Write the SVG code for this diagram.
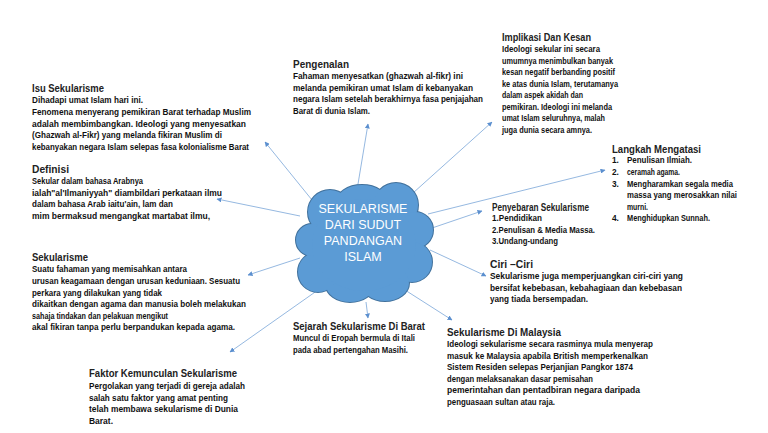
<svg xmlns="http://www.w3.org/2000/svg" width="768" height="433" viewBox="0 0 768 433">
<defs>
<marker id="ah" viewBox="0 0 10 10" refX="9" refY="5" markerWidth="5" markerHeight="5" orient="auto" markerUnits="userSpaceOnUse">
<path d="M0,0 L10,5 L0,10 z" fill="#5b8fcf"/>
</marker>
<style>
.t{font-family:"Liberation Sans",Arial,sans-serif;font-size:10px;font-weight:bold;fill:#222}
.b{font-family:"Liberation Sans",Arial,sans-serif;font-size:8.3px;font-weight:bold;fill:#111}
.c{font-family:"Liberation Sans",Arial,sans-serif;font-size:12.5px;fill:#fff;text-anchor:middle}
.ln{stroke:#7aa6d8;stroke-width:0.8;fill:none;marker-end:url(#ah)}
.cs{fill:none;stroke:#41719c;stroke-width:2}
.cf{fill:#5b9bd5}
</style>
</defs>
<rect width="768" height="433" fill="#fff"/>
<g id="connectors">
<line class="ln" x1="312" y1="200" x2="265" y2="142"/>
<line class="ln" x1="300" y1="216" x2="217" y2="199"/>
<line class="ln" x1="300" y1="258" x2="248" y2="275"/>
<line class="ln" x1="318" y1="290" x2="230" y2="352"/>
<line class="ln" x1="357" y1="190" x2="368" y2="124"/>
<line class="ln" x1="413" y1="193" x2="492" y2="122"/>
<line class="ln" x1="428" y1="214" x2="605" y2="170"/>
<line class="ln" x1="432" y1="228" x2="482" y2="211"/>
<line class="ln" x1="430" y1="250" x2="486" y2="276"/>
<line class="ln" x1="405" y1="290" x2="452" y2="320"/>
<line class="ln" x1="366" y1="302" x2="368" y2="318"/>
</g>
<g id="center">
<g class="cs">
<circle cx="330" cy="212" r="22"/>
<ellipse cx="362" cy="203" rx="26" ry="18"/>
<circle cx="396" cy="205" r="22"/>
<circle cx="415" cy="230" r="18"/>
<circle cx="412" cy="262" r="20"/>
<ellipse cx="385" cy="283" rx="24" ry="18"/>
<ellipse cx="350" cy="285" rx="24" ry="17"/>
<circle cx="318" cy="272" r="20"/>
<circle cx="312" cy="240" r="16"/>
</g>
<g class="cf">
<circle cx="330" cy="212" r="22"/>
<ellipse cx="362" cy="203" rx="26" ry="18"/>
<circle cx="396" cy="205" r="22"/>
<circle cx="415" cy="230" r="18"/>
<circle cx="412" cy="262" r="20"/>
<ellipse cx="385" cy="283" rx="24" ry="18"/>
<ellipse cx="350" cy="285" rx="24" ry="17"/>
<circle cx="318" cy="272" r="20"/>
<circle cx="312" cy="240" r="16"/>
<ellipse cx="364" cy="245" rx="52" ry="46"/>
</g>
<text class="c" x="363" y="213">SEKULARISME</text>
<text class="c" x="363" y="229">DARI SUDUT</text>
<text class="c" x="363" y="245">PANDANGAN</text>
<text class="c" x="363" y="261">ISLAM</text>
</g>
<g id="isu">
<text class="t" x="32" y="92" textLength="72" lengthAdjust="spacingAndGlyphs">Isu Sekularisme</text>
<text class="b" x="32" y="103" textLength="111" lengthAdjust="spacingAndGlyphs">Dihadapi umat Islam hari ini.</text>
<text class="b" x="32" y="115" textLength="219" lengthAdjust="spacingAndGlyphs">Fenomena menyerang pemikiran Barat terhadap Muslim</text>
<text class="b" x="32" y="126.5" textLength="214" lengthAdjust="spacingAndGlyphs">adalah membimbangkan. Ideologi yang menyesatkan</text>
<text class="b" x="32" y="138" textLength="190" lengthAdjust="spacingAndGlyphs">(Ghazwah al-Fikr) yang melanda fikiran Muslim di</text>
<text class="b" x="32" y="149.5" textLength="217" lengthAdjust="spacingAndGlyphs">kebanyakan negara Islam selepas fasa kolonialisme Barat</text>
</g>
<g id="definisi">
<text class="t" x="32" y="173" textLength="37" lengthAdjust="spacingAndGlyphs">Definisi</text>
<text class="b" x="32" y="184" textLength="111" lengthAdjust="spacingAndGlyphs">Sekular dalam bahasa Arabnya</text>
<text class="b" x="32" y="195.5" textLength="190" lengthAdjust="spacingAndGlyphs">ialah"al'Ilmaniyyah" diambildari perkataan ilmu</text>
<text class="b" x="32" y="207" textLength="141" lengthAdjust="spacingAndGlyphs">dalam bahasa Arab iaitu'ain, lam dan</text>
<text class="b" x="32" y="218.5" textLength="178" lengthAdjust="spacingAndGlyphs">mim bermaksud mengangkat martabat ilmu,</text>
</g>
<g id="sekularisme">
<text class="t" x="32" y="261" textLength="56" lengthAdjust="spacingAndGlyphs">Sekularisme</text>
<text class="b" x="32" y="272" textLength="155" lengthAdjust="spacingAndGlyphs">Suatu fahaman yang memisahkan antara</text>
<text class="b" x="32" y="284" textLength="208" lengthAdjust="spacingAndGlyphs">urusan keagamaan dengan urusan keduniaan. Sesuatu</text>
<text class="b" x="32" y="295.5" textLength="130" lengthAdjust="spacingAndGlyphs">perkara yang dilakukan yang tidak</text>
<text class="b" x="32" y="307" textLength="214" lengthAdjust="spacingAndGlyphs">dikaitkan dengan agama dan manusia boleh melakukan</text>
<text class="b" x="32" y="318.5" textLength="136" lengthAdjust="spacingAndGlyphs">sahaja tindakan dan pelakuan mengikut</text>
<text class="b" x="32" y="330" textLength="203" lengthAdjust="spacingAndGlyphs">akal fikiran tanpa perlu berpandukan kepada agama.</text>
</g>
<g id="faktor">
<text class="t" x="89" y="377" textLength="148" lengthAdjust="spacingAndGlyphs">Faktor Kemunculan Sekularisme</text>
<text class="b" x="89" y="389" textLength="156" lengthAdjust="spacingAndGlyphs">Pergolakan yang terjadi di gereja adalah</text>
<text class="b" x="89" y="400.5" textLength="139" lengthAdjust="spacingAndGlyphs">salah satu faktor yang amat penting</text>
<text class="b" x="89" y="412" textLength="149" lengthAdjust="spacingAndGlyphs">telah membawa sekularisme di Dunia</text>
<text class="b" x="89" y="424" textLength="24" lengthAdjust="spacingAndGlyphs">Barat.</text>
</g>
<g id="pengenalan">
<text class="t" x="293" y="68" textLength="56" lengthAdjust="spacingAndGlyphs">Pengenalan</text>
<text class="b" x="293" y="79" textLength="170" lengthAdjust="spacingAndGlyphs">Fahaman menyesatkan (ghazwah al-fikr) ini</text>
<text class="b" x="293" y="90.5" textLength="180" lengthAdjust="spacingAndGlyphs">melanda pemikiran umat Islam di kebanyakan</text>
<text class="b" x="293" y="102" textLength="190" lengthAdjust="spacingAndGlyphs">negara Islam setelah berakhirnya fasa penjajahan</text>
<text class="b" x="293" y="113.5" textLength="77" lengthAdjust="spacingAndGlyphs">Barat di dunia Islam.</text>
</g>
<g id="implikasi">
<text class="t" x="502" y="41" textLength="89" lengthAdjust="spacingAndGlyphs">Implikasi Dan Kesan</text>
<text class="b" x="502" y="52" textLength="98" lengthAdjust="spacingAndGlyphs">Ideologi sekular ini secara</text>
<text class="b" x="502" y="64" textLength="111" lengthAdjust="spacingAndGlyphs">umumnya menimbulkan banyak</text>
<text class="b" x="502" y="75" textLength="113" lengthAdjust="spacingAndGlyphs">kesan negatif berbanding positif</text>
<text class="b" x="502" y="87" textLength="116" lengthAdjust="spacingAndGlyphs">ke atas dunia Islam, terutamanya</text>
<text class="b" x="502" y="98" textLength="81" lengthAdjust="spacingAndGlyphs">dalam aspek akidah dan</text>
<text class="b" x="502" y="110" textLength="110" lengthAdjust="spacingAndGlyphs">pemikiran. Ideologi ini melanda</text>
<text class="b" x="502" y="121" textLength="103" lengthAdjust="spacingAndGlyphs">umat Islam seluruhnya, malah</text>
<text class="b" x="502" y="133" textLength="90" lengthAdjust="spacingAndGlyphs">juga dunia secara amnya.</text>
</g>
<g id="langkah">
<text class="t" x="612" y="153" textLength="89" lengthAdjust="spacingAndGlyphs">Langkah Mengatasi</text>
<text class="b" x="612" y="163">1.</text>
<text class="b" x="627" y="163" textLength="65" lengthAdjust="spacingAndGlyphs">Penulisan Ilmiah.</text>
<text class="b" x="612" y="175">2.</text>
<text class="b" x="627" y="175" textLength="53" lengthAdjust="spacingAndGlyphs">ceramah agama.</text>
<text class="b" x="612" y="187">3.</text>
<text class="b" x="627" y="187" textLength="106" lengthAdjust="spacingAndGlyphs">Mengharamkan segala media</text>
<text class="b" x="627" y="198" textLength="110" lengthAdjust="spacingAndGlyphs">massa yang merosakkan nilai</text>
<text class="b" x="627" y="210" textLength="21" lengthAdjust="spacingAndGlyphs">murni.</text>
<text class="b" x="612" y="221">4.</text>
<text class="b" x="627" y="221" textLength="83" lengthAdjust="spacingAndGlyphs">Menghidupkan Sunnah.</text>
</g>
<g id="penyebaran">
<text class="t" x="492" y="211" textLength="97" lengthAdjust="spacingAndGlyphs">Penyebaran Sekularisme</text>
<text class="b" x="492" y="221" textLength="50" lengthAdjust="spacingAndGlyphs">1.Pendidikan</text>
<text class="b" x="492" y="233" textLength="103" lengthAdjust="spacingAndGlyphs">2.Penulisan &amp; Media Massa.</text>
<text class="b" x="492" y="244" textLength="66" lengthAdjust="spacingAndGlyphs">3.Undang-undang</text>
</g>
<g id="ciri">
<text class="t" x="490" y="268" textLength="43" lengthAdjust="spacingAndGlyphs">Ciri –Ciri</text>
<text class="b" x="490" y="279" textLength="193" lengthAdjust="spacingAndGlyphs">Sekularisme juga memperjuangkan ciri-ciri yang</text>
<text class="b" x="490" y="291" textLength="192" lengthAdjust="spacingAndGlyphs">bersifat kebebasan, kebahagiaan dan kebebasan</text>
<text class="b" x="490" y="302" textLength="98" lengthAdjust="spacingAndGlyphs">yang tiada bersempadan.</text>
</g>
<g id="sejarah">
<text class="t" x="293" y="330" textLength="132" lengthAdjust="spacingAndGlyphs">Sejarah Sekularisme Di Barat</text>
<text class="b" x="293" y="341" textLength="122" lengthAdjust="spacingAndGlyphs">Muncul di Eropah bermula di Itali</text>
<text class="b" x="293" y="353" textLength="115" lengthAdjust="spacingAndGlyphs">pada abad pertengahan Masihi.</text>
</g>
<g id="malaysia">
<text class="t" x="447" y="336" textLength="114" lengthAdjust="spacingAndGlyphs">Sekularisme Di Malaysia</text>
<text class="b" x="447" y="347" textLength="206" lengthAdjust="spacingAndGlyphs">Ideologi sekularisme secara rasminya mula menyerap</text>
<text class="b" x="447" y="359" textLength="201" lengthAdjust="spacingAndGlyphs">masuk ke Malaysia apabila British memperkenalkan</text>
<text class="b" x="447" y="370" textLength="186" lengthAdjust="spacingAndGlyphs">Sistem Residen selepas Perjanjian Pangkor 1874</text>
<text class="b" x="447" y="382" textLength="146" lengthAdjust="spacingAndGlyphs">dengan melaksanakan dasar pemisahan</text>
<text class="b" x="447" y="393" textLength="193" lengthAdjust="spacingAndGlyphs">pemerintahan dan pentadbiran negara daripada</text>
<text class="b" x="447" y="405" textLength="108" lengthAdjust="spacingAndGlyphs">penguasaan sultan atau raja.</text>
</g>
</svg>
